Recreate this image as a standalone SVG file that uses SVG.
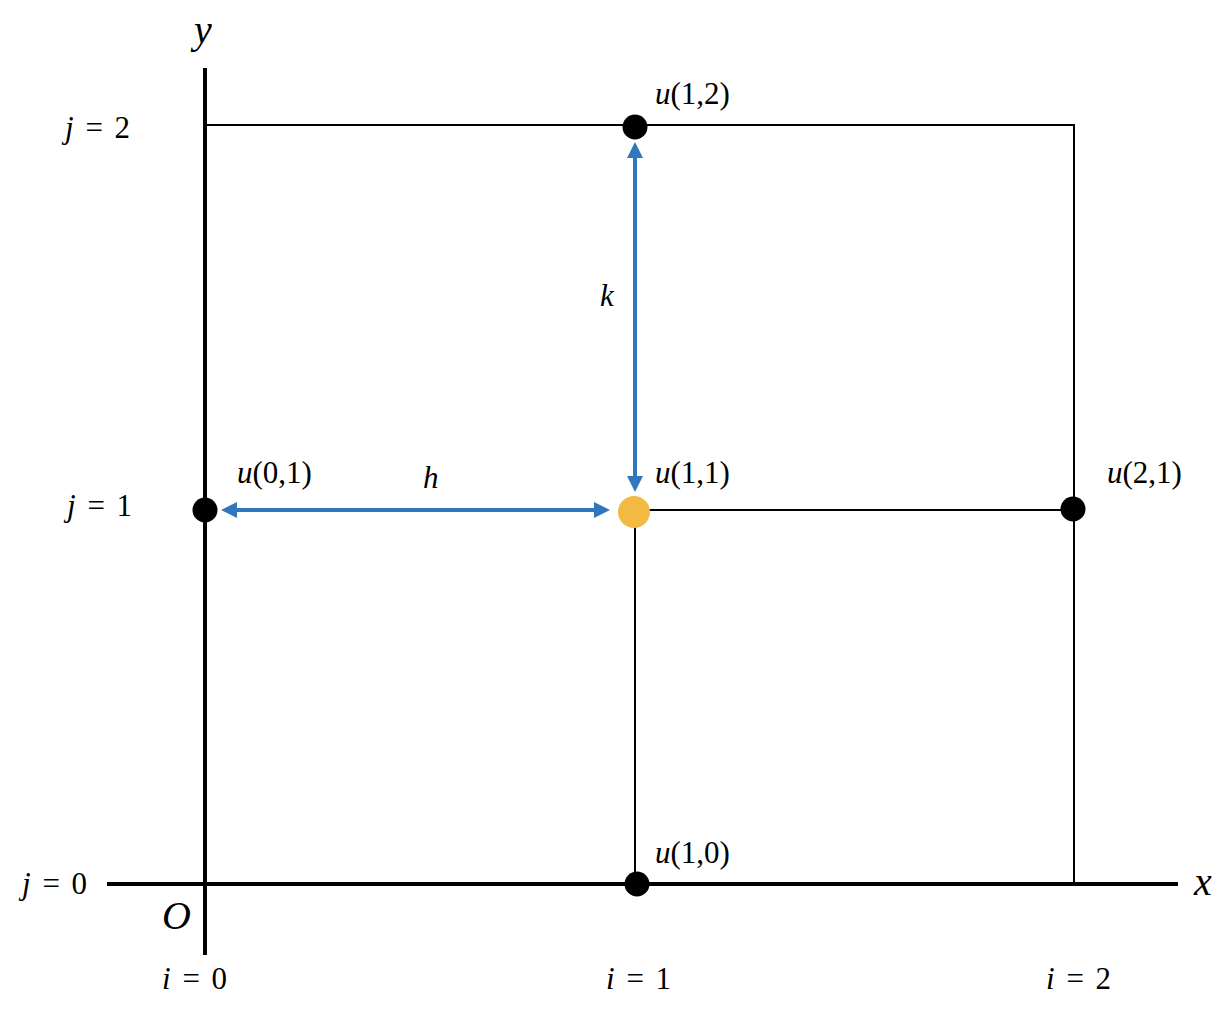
<svg xmlns="http://www.w3.org/2000/svg" width="1226" height="1020" viewBox="0 0 1226 1020">
<style>
.t{font-family:"Liberation Serif","Times New Roman",serif;font-size:31px;fill:#000}
.eq{word-spacing:4px}
.i{font-style:italic}
.big{font-size:40px}
.thin{stroke:#000;stroke-width:2;fill:none}
.axis{stroke:#000;stroke-width:4;fill:none}
.blue{stroke:#3077BE;stroke-width:4;fill:none}
</style>
<defs>
<marker id="ah" viewBox="0 0 10 10" refX="0" refY="5" markerWidth="4.4" markerHeight="4" orient="auto-start-reverse" markerUnits="strokeWidth">
<path d="M0,0 L10,5 L0,10 z" fill="#3077BE"/>
</marker>
</defs>
<rect width="1226" height="1020" fill="#fff"/>
<g id="grid">
<line class="thin" x1="205" y1="125" x2="1075" y2="125"/>
<line class="thin" x1="1074" y1="124" x2="1074" y2="884"/>
<line class="thin" x1="635" y1="510" x2="1074" y2="510"/>
<line class="thin" x1="635" y1="510" x2="635" y2="884"/>
</g>
<g id="axes">
<line class="axis" x1="107" y1="884" x2="1178" y2="884"/>
<line class="axis" x1="205" y1="68" x2="205" y2="955"/>
</g>
<g id="connectors">
<line class="blue" x1="635" y1="158" x2="635" y2="476" marker-start="url(#ah)" marker-end="url(#ah)"/>
<line class="blue" x1="237" y1="510" x2="594" y2="510" marker-start="url(#ah)" marker-end="url(#ah)"/>
</g>
<g id="node-u12"><circle cx="635" cy="127" r="12.5" fill="#000"/><text class="t" x="655" y="104"><tspan class="i">u</tspan>(1,2)</text></g>
<g id="node-u01"><circle cx="205" cy="510" r="12.5" fill="#000"/><text class="t" x="237" y="483"><tspan class="i">u</tspan>(0,1)</text></g>
<g id="node-u11"><circle cx="634" cy="512" r="16" fill="#F2BA42"/><text class="t" x="655" y="483"><tspan class="i">u</tspan>(1,1)</text></g>
<g id="node-u21"><circle cx="1073" cy="509" r="12.5" fill="#000"/><text class="t" x="1107" y="483"><tspan class="i">u</tspan>(2,1)</text></g>
<g id="node-u10"><circle cx="637" cy="884" r="12.5" fill="#000"/><text class="t" x="655" y="863"><tspan class="i">u</tspan>(1,0)</text></g>
<g id="labels">
<text class="t i" x="423" y="488">h</text>
<text class="t i" x="600" y="306">k</text>
<text class="t i big" x="194" y="43">y</text>
<text class="t i big" x="1194" y="895">x</text>
<text class="t i big" x="162" y="929">O</text>
<text class="t eq" x="65" y="138"><tspan class="i">j</tspan> = 2</text>
<text class="t eq" x="67" y="516"><tspan class="i">j</tspan> = 1</text>
<text class="t eq" x="22" y="894"><tspan class="i">j</tspan> = 0</text>
<text class="t eq" x="162" y="989"><tspan class="i">i</tspan> = 0</text>
<text class="t eq" x="606" y="989"><tspan class="i">i</tspan> = 1</text>
<text class="t eq" x="1046" y="989"><tspan class="i">i</tspan> = 2</text>
</g>
</svg>
